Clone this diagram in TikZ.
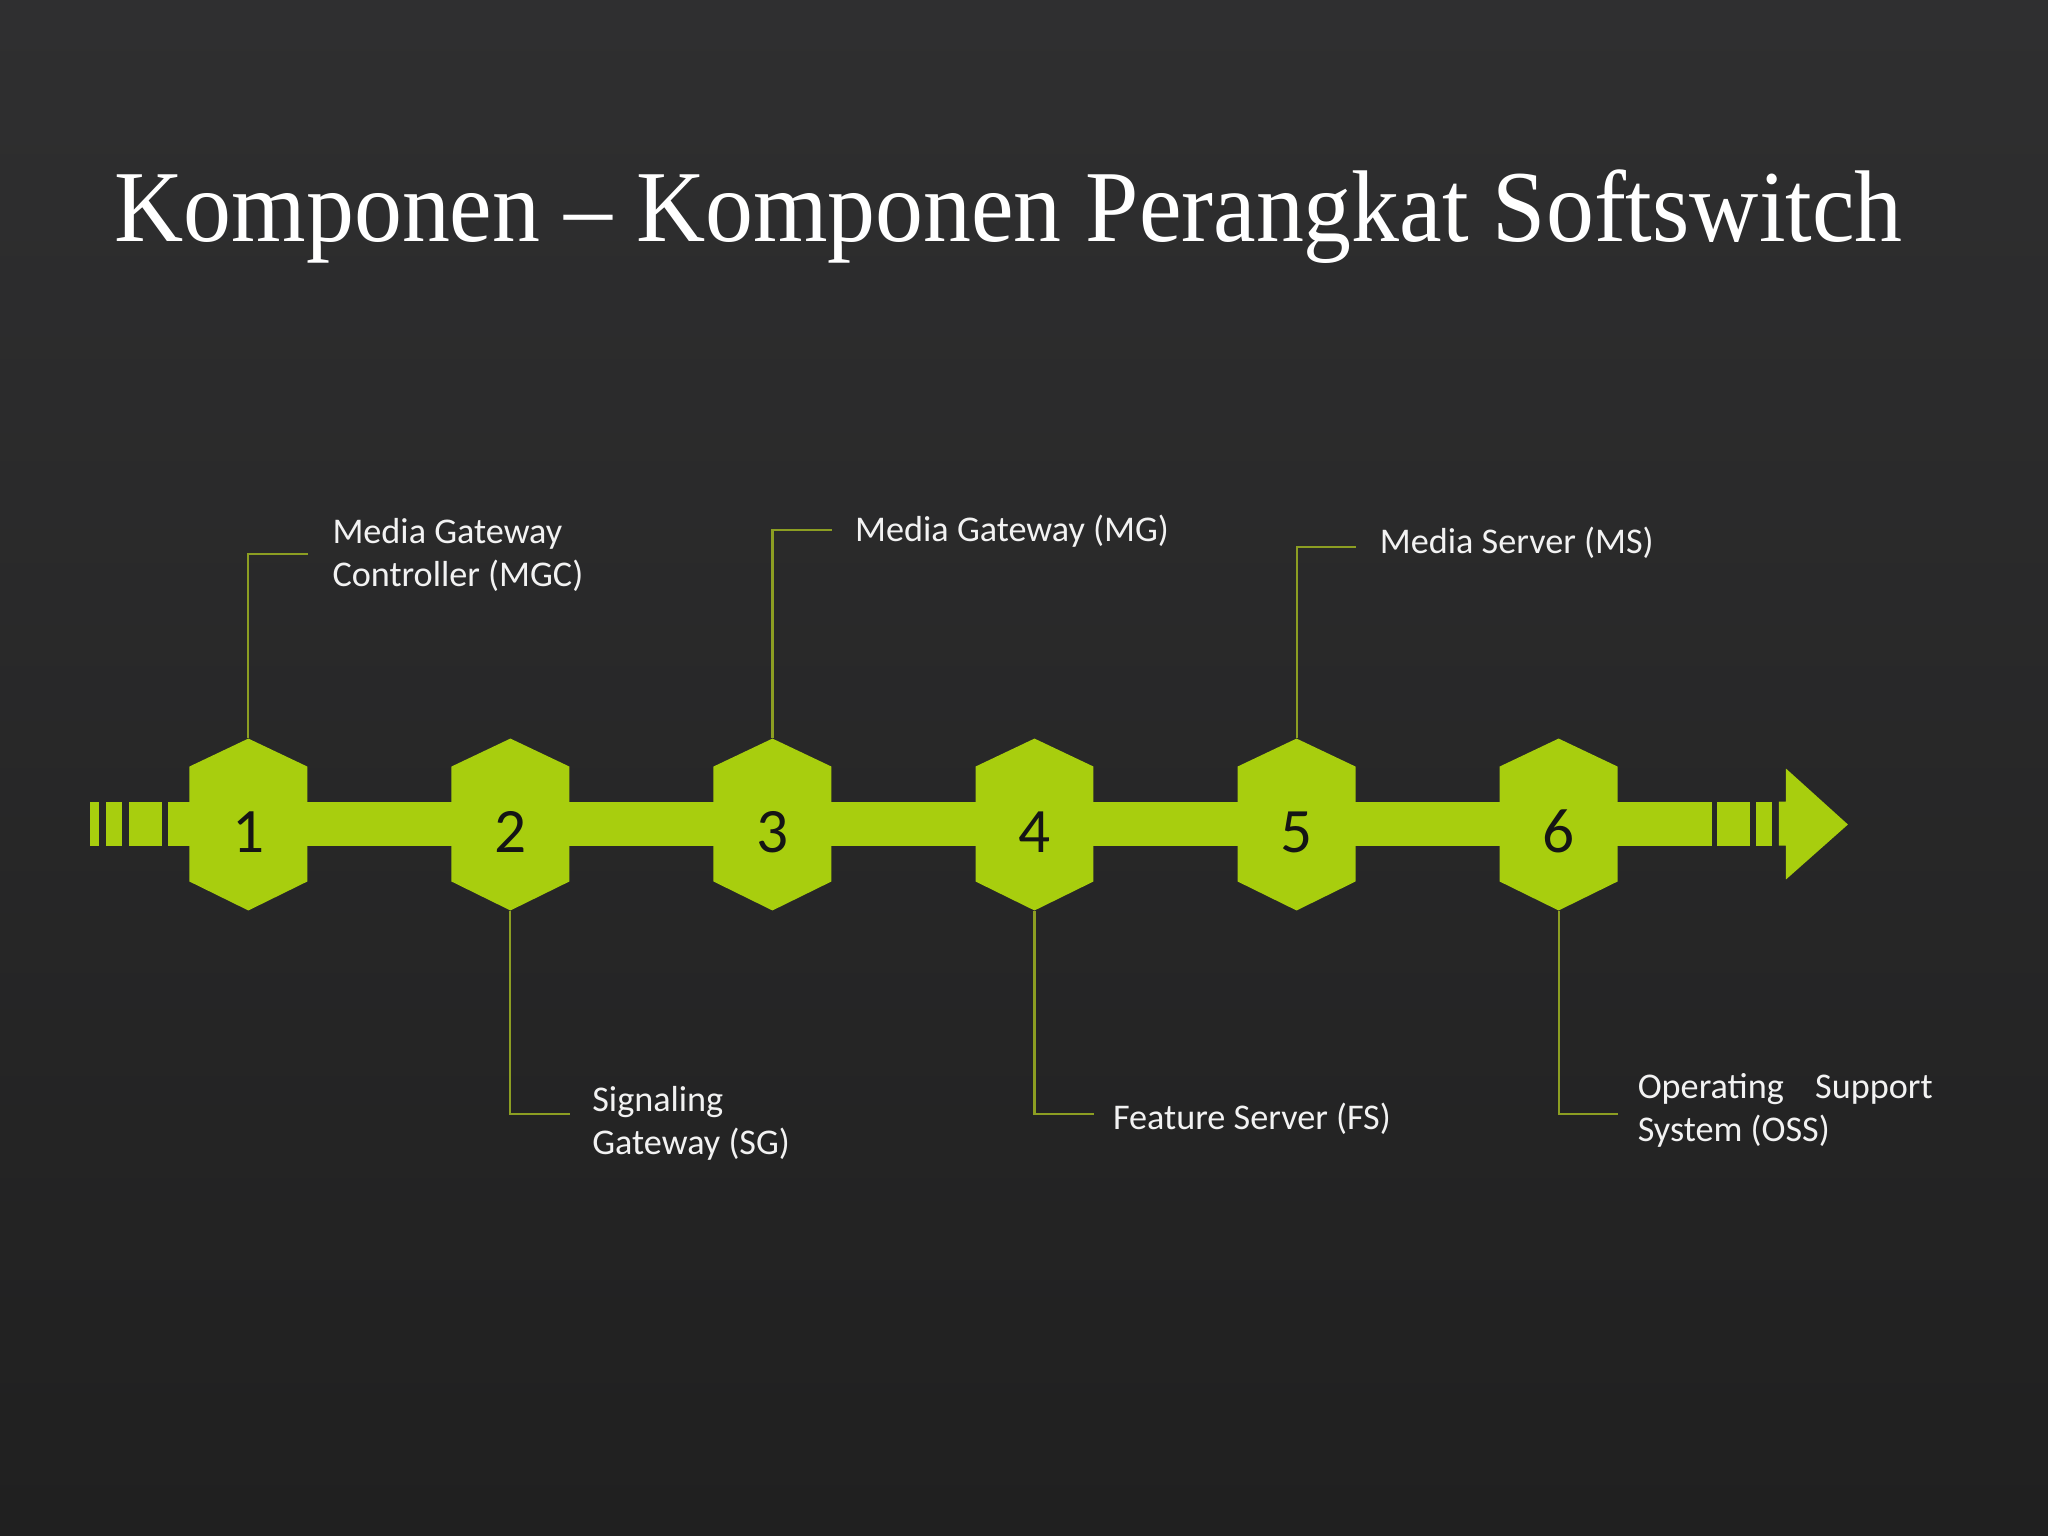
\documentclass[tikz,border=0pt]{standalone}
\usepackage{fontspec}
\setmainfont{Carlito}
\newfontfamily\titlefont[FakeStretch=0.94]{Liberation Serif}
\usetikzlibrary{positioning}

\definecolor{bgtop}{HTML}{2F2F30}
\definecolor{bgbot}{HTML}{202020}
\definecolor{lime}{HTML}{A8CE0E}
\definecolor{leadgreen}{HTML}{8C9E22}
\definecolor{digit}{HTML}{151515}
\definecolor{labeltext}{HTML}{F2F2F2}

\begin{document}
\begin{tikzpicture}[x=0.01cm, y=-0.01cm,
    hexbox/.style={minimum width=1.18cm, minimum height=1.72cm, inner sep=0pt,
        text=digit, font=\fontsize{18}{18}\selectfont, text height=0.55cm, text depth=0pt},
    lbl/.style={anchor=west, align=left, inner sep=0pt, text=labeltext,
        font=\fontsize{10.3}{12.3}\selectfont},
    leader/.style={draw=leadgreen, line width=0.6pt}]
% background
\shade[top color=bgtop, bottom color=bgbot] (0cm,0cm) rectangle (20.48cm,-15.36cm);
\useasboundingbox (0,0) rectangle (2048,1536);

\node[anchor=base west, inner sep=0pt, text=white,
    font=\titlefont\fontsize{29}{29}\selectfont] (title) at (114,242)
    {Komponen – Komponen Perangkat Softswitch};

% the bar with its dashes
\fill[lime] (90,802) rectangle (99,846);
\fill[lime] (106,802) rectangle (122,846);
\fill[lime] (129,802) rectangle (162,846);
\fill[lime] (168,802) rectangle (1713,846);
\fill[lime] (1718,802) rectangle (1751,846);
\fill[lime] (1757,802) rectangle (1773,846);
\fill[lime] (1780,802) -- (1787,802) -- (1787,769) -- (1849,825)
    -- (1787,880) -- (1787,846) -- (1780,846) -- cycle;

% hexagons
\foreach \i in {1,...,6} {
    \pgfmathsetmacro{\cx}{248.5+(\i-1)*262.2}
    \fill[lime] (\cx,739) -- (\cx+59,767) -- (\cx+59,882) -- (\cx,911)
        -- (\cx-59,882) -- (\cx-59,767) -- cycle;
    \node[hexbox] (h\i) at (\cx,825) {\i};
}

% labels above
\coordinate (c1) at (h1.east |- 0,554);
\node[lbl] (l1) at (332,555) {Media Gateway\\Controller (MGC)};
\draw[leader] (h1.north) |- (c1);

\coordinate (c3) at (h3.east |- 0,530);
\node[lbl] (l3) at (855,531) {Media Gateway (MG)};
\draw[leader] (h3.north) |- (c3);

\coordinate (c5) at (h5.east |- 0,547);
\node[lbl] (l5) at (1380,543) {Media Server (MS)};
\draw[leader] (h5.north) |- (c5);

% labels below
\coordinate (c2) at (h2.east |- 0,1115);
\node[lbl] (l2) at (592,1124) {Signaling\\Gateway (SG)};
\draw[leader] (h2.south) |- (c2);

\coordinate (c4) at (h4.east |- 0,1115);
\node[lbl] (l4) at (1113,1119) {Feature Server (FS)};
\draw[leader] (h4.south) |- (c4);

\coordinate (c6) at (h6.east |- 0,1115);
\node[lbl] (l6) at (1638,1111)
    {\makebox[2.95cm][s]{Operating\hfill Support}\\System (OSS)};
\draw[leader] (h6.south) |- (c6);
\end{tikzpicture}
\end{document}
